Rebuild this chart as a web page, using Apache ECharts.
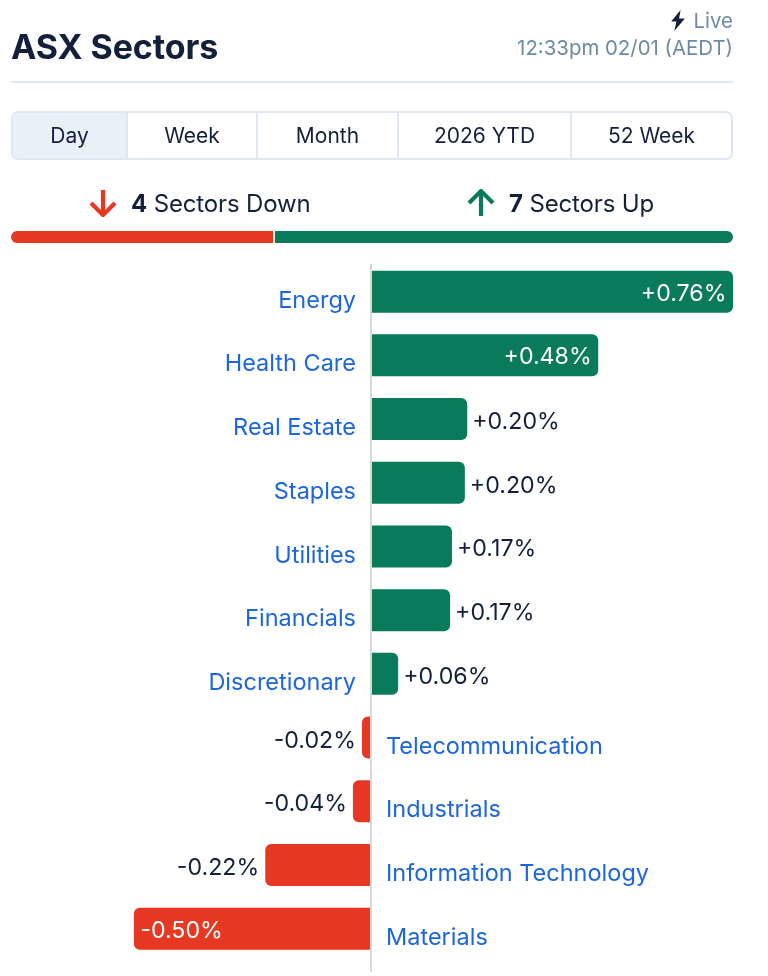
<!DOCTYPE html>
<html>
<head>
<meta charset="utf-8">
<script src="https://cdn.jsdelivr.net/npm/echarts@6/dist/echarts.min.js"></script>
<style>
    *{margin:0;padding:0;box-sizing:border-box;}
    body{width:768px;height:976px;background:#fff;font-family:Inter,sans-serif;color:#14203a;position:relative;overflow:hidden;}
    #main{position:absolute;left:0;top:0;width:768px;height:976px;}
    .abs{position:absolute;white-space:nowrap;}
    #title{left:11px;top:25px;font-size:34px;font-weight:700;line-height:44px;letter-spacing:-0.1px;}
    .meta{right:35px;color:#6d8ba3;font-size:20.4px;line-height:26px;}
    #rule{left:11px;top:81px;width:722px;height:2px;background:#dfe8f0;}
    #tabs{left:11px;top:111px;width:722px;height:49px;border:2px solid #dfe8f0;border-radius:7px;display:flex;overflow:hidden;}
    #tabs div{text-align:center;line-height:45px;font-size:21px;border-left:2px solid #dfe8f0;}
    #tabs div:first-child{border-left:0;background:#e8f0f8;}
    .count{top:188px;font-size:24px;line-height:32px;letter-spacing:-0.15px;}
    .count b{font-weight:700;}
</style>
</head>
<body>
<div id="main"></div>
<div class="abs" id="title">ASX Sectors</div>
<div class="abs meta" style="top:8px;">
    <svg width="16" height="21" viewBox="0 0 15 20" style="vertical-align:-3px;margin-right:8px;"><path d="M10 0 L1 11 H6 L4 20 L14 8 H8.5 Z" fill="#14203a"/></svg>Live
</div>
<div class="abs meta" style="top:35px;">12:33pm 02/01 (AEDT)</div>
<div class="abs" id="rule"></div>
<div class="abs" id="tabs"></div>
<svg class="abs" style="left:89px;top:189px;" width="28" height="28" viewBox="0 0 28 28"><path d="M14 1 V26 M2 14 L14 26 L26 14" fill="none" stroke="#e63822" stroke-width="4.2"/></svg>
<div class="abs count" style="left:131px;"><b id="downCount"></b> Sectors Down</div>
<svg class="abs" style="left:467px;top:189px;" width="28" height="28" viewBox="0 0 28 28"><path d="M14 27 V2 M2 14 L14 2 L26 14" fill="none" stroke="#0a7b5a" stroke-width="4.2"/></svg>
<div class="abs count" style="left:509px;"><b id="upCount"></b> Sectors Up</div>
<script type="text/javascript">
    var categories = ["Energy","Health Care","Real Estate","Staples","Utilities","Financials","Discretionary","Telecommunication","Industrials","Information Technology","Materials"];
    var changes = [0.76,0.477,0.202,0.197,0.17,0.166,0.057,-0.019,-0.038,-0.222,-0.498];
    var tabNames = ["Day","Week","Month","2026 YTD","52 Week"];
    var tabWidths = [113,130,141,173,161];
    var sectorsDown = [4];
    var sectorsUp = [7];

    var GREEN = '#0a7b5a', RED = '#e63822', INK = '#14203a', BLUE = '#1b66dc';
    var FONT = 'Inter';

    document.getElementById('downCount').textContent = sectorsDown[0];
    document.getElementById('upCount').textContent = sectorsUp[0];
    document.getElementById('tabs').innerHTML = tabNames.map(function(name, i){
        return '<div style="width:' + tabWidths[i] + 'px">' + name + '</div>';
    }).join('');

    function pct(v){
        return (v > 0 ? '+' : '') + v.toFixed(2) + '%';
    }

    // big bars keep the value inside, small ones outside
    var barData = changes.map(function(v){
        var inside = Math.abs(v) > 0.3;
        return {
            value: v,
            itemStyle: {color: v > 0 ? GREEN : RED, borderRadius: v > 0 ? [0,6,6,0] : [6,0,0,6]},
            label: {
                show: true,
                position: inside ? (v > 0 ? 'insideRight' : 'insideLeft') : (v > 0 ? 'right' : 'left'),
                distance: inside ? 6.5 : (v > 0 ? 5 : 6),
                offset: [0, inside ? 2 : 3],
                color: inside ? '#fff' : INK,
                fontFamily: FONT,
                fontSize: 23.2,
                formatter: pct(v)
            }
        };
    });

    // zero length bars just carry the sector names on the far side of the axis
    var nameData = changes.map(function(v, i){
        return {
            value: 0,
            label: {
                show: true,
                position: v > 0 ? 'left' : 'right',
                offset: [v > 0 ? -10 : 10, 9],
                color: BLUE,
                fontFamily: FONT,
                fontSize: 23.5,
                formatter: categories[i]
            }
        };
    });

    var myChart = echarts.init(document.getElementById('main'), null, {renderer: 'canvas'});
    myChart.setOption({
        animation: false,
        grid: [
            {left: 37.6, right: 35, top: 259.8, bottom: 15.5},
            {left: 11, right: 35, top: 231, height: 12}
        ],
        xAxis: [
            {gridIndex: 0, type: 'value', min: -0.7, max: 0.76, show: false},
            {gridIndex: 1, type: 'value', min: 0, max: sectorsDown[0] + sectorsUp[0], show: false}
        ],
        yAxis: [
            {gridIndex: 0, type: 'category', inverse: true, data: categories, show: false},
            {gridIndex: 1, type: 'category', data: ['sectors'], show: false}
        ],
        series: [
            {name: 'change', type: 'bar', barWidth: 42, barGap: '-100%', data: barData, silent: true},
            {name: 'names', type: 'bar', barWidth: 42, barGap: '-100%', data: nameData, silent: true},
            {name: 'down', type: 'bar', xAxisIndex: 1, yAxisIndex: 1, stack: 'split', barWidth: 12, data: sectorsDown,
                itemStyle: {color: RED, borderRadius: [6,0,0,6]}, silent: true},
            {name: 'up', type: 'bar', xAxisIndex: 1, yAxisIndex: 1, stack: 'split', barWidth: 12, data: sectorsUp,
                itemStyle: {color: GREEN, borderRadius: [0,6,6,0]}, silent: true}
        ],
        graphic: [
            {type: 'line', shape: {x1: 371, y1: 264, x2: 371, y2: 972}, style: {stroke: '#d9d9d9', lineWidth: 2}, z: 10, silent: true},
            {type: 'rect', shape: {x: 273, y: 230, width: 2, height: 14}, style: {fill: '#fff'}, z: 10, silent: true}
        ]
    });
</script>
</body>
</html>
